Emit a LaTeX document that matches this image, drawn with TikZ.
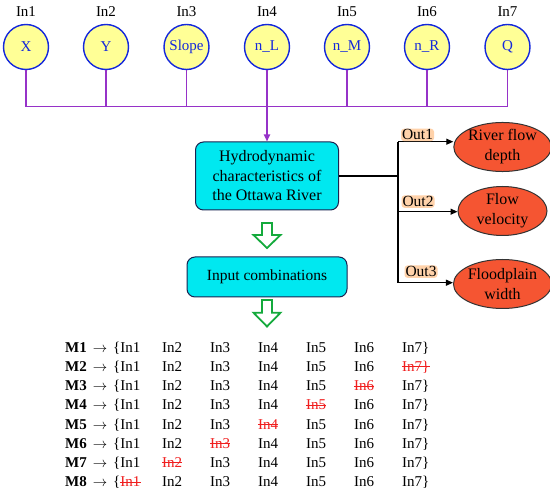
\documentclass[tikz,border=0pt]{standalone}
\usepackage{fontspec}
\setmainfont{Liberation Serif}
\usetikzlibrary{shapes.geometric,arrows.meta,calc}
\definecolor{purp}{RGB}{150,50,200}
\definecolor{cblue}{RGB}{20,40,220}
\definecolor{cyel}{RGB}{255,255,150}
\definecolor{boxc}{RGB}{0,232,240}
\definecolor{boxd}{RGB}{25,35,80}
\definecolor{ovalc}{RGB}{245,85,50}
\definecolor{garr}{RGB}{20,170,60}
\definecolor{glow}{RGB}{255,210,170}
\definecolor{strred}{RGB}{240,30,30}
\begin{document}
\begin{tikzpicture}[x=1pt,y=-1pt,
  every node/.style={inner sep=0pt},
  lbl/.style={font=\fontsize{15}{18}\selectfont},
  inc/.style={circle, draw=cblue, line width=1.4pt, fill=cyel, minimum size=45pt, text=cblue, font=\fontsize{15}{18}\selectfont},
  purpline/.style={draw=purp, line width=1.6pt},
  procbox/.style={draw=boxd, line width=1pt, fill=boxc, rounded corners=8pt, align=center, font=\fontsize{16}{19.5}\selectfont},
  outoval/.style={ellipse, draw=black!80, line width=1pt, fill=ovalc, minimum width=89pt, minimum height=49pt, align=center, font=\fontsize{16}{20}\selectfont},
  outlbl/.style={fill=glow, rounded corners=3pt, inner sep=1pt, font=\fontsize{15.5}{18}\selectfont},
  outconn/.style={draw=black, line width=1.2pt},
  tipb/.style={-{Triangle[length=7pt,width=6pt]}},
  cell/.style={anchor=base west, font=\fontsize{15}{18}\selectfont},
  strike/.style={draw=strred, line width=1.1pt},
  hollowarrow/.pic={\draw[garr, line width=1.8pt, fill=white, line join=miter]
     (-5,0) -- (5,0) -- (5,12) -- (13.5,12) -- (0,25) -- (-13.5,12) -- (-5,12) -- cycle;}
]
\fill[white] (0,0) rectangle (550,494);
\useasboundingbox (0,0) rectangle (550,494);

% inputs
\foreach \x/\t [count=\i] in {26/X,106/Y,186.5/Slope,267/n\_L,347/n\_M,427/n\_R,507.5/Q}{
  \node[inc] (c\i) at (\x,47) {\t};
  \node[lbl, anchor=base] (t\i) at (\x,16.7) {In\i};
}
\coordinate (bus) at (267,106.5);
\draw[purpline] (c1.south) -- (c1.south |- bus) -- (c7.south |- bus) -- (c7.south);
\foreach \i in {2,...,6}{
  \draw[purpline] (c\i.south) -- (c\i.south |- bus);
}

% process boxes
\node[procbox, minimum width=143pt, minimum height=68pt] (hydro) at (267,176) {Hydrodynamic\\characteristics of\\the Ottawa River};
\node[procbox, minimum width=160pt, minimum height=40pt, font=\fontsize{15.5}{18}\selectfont] (comb) at (267,277) {Input combinations};
\draw[purpline, -{Triangle[length=7pt,width=6pt]}] (bus) -- (bus |- hydro.north);

% green hollow arrows
\coordinate (g1) at (267,223);
\coordinate (g2) at (267,300);
\pic at (g1) {hollowarrow};
\pic[yscale=1.06] at (g2) {hollowarrow};

% outputs
\node[outoval] (o1) at (502.5,147) {River flow\\depth};
\node[outoval] (o2) at (502.5,211) {Flow\\velocity};
\node[outoval] (o3) at (502.5,284) {Floodplain\\width};
\coordinate (j1) at (398,141.7);
\coordinate (j2) at (398,211.7);
\coordinate (j3) at (398,282.7);
\draw[outconn] (hydro.east) -- (hydro.east -| j1);
\draw[outconn] (j1) -- (j3);
\draw[outconn, tipb] (j1) -- (j1 -| o1.west);
\draw[outconn, tipb] (j2) -- (j2 -| o2.west);
\draw[outconn, tipb] (j3) -- (j3 -| o3.west);
\node[outlbl, anchor=base] (l1) at (417.5,140) {Out1};
\node[outlbl, anchor=base] (l2) at (418,206.7) {Out2};
\node[outlbl, anchor=base] (l3) at (421,276.7) {Out3};

% combinations table
\foreach \r in {1,...,8}{
  \pgfmathsetmacro\yy{352.3+(\r-1)*19.2}
  \pgfmathtruncatemacro\s{9-\r}
  \node[cell, font=\bfseries\fontsize{15}{18}\selectfont] (m\r) at (65,\yy) {M\r};
  \node[cell] (a\r) at (92.7,\yy) {$\rightarrow$};
  \node[cell] (b\r) at (113,\yy) {\{};
  \foreach \c/\cx in {1/120.2,2/162,3/210,4/258,5/306,6/354,7/402}{
    \ifnum\c=7 \def\txt{In7\}}\else\def\txt{In\c}\fi
    \ifnum\c=\s \def\cc{strred}\else\def\cc{black}\fi
    \node[cell, text=\cc] (r\r-\c) at (\cx,\yy) {\txt};
    \ifnum\c=\s
      \draw[strike] ($(r\r-\c.base west)+(0,-4.6)$) -- ($(r\r-\c.base east)+(0,-4.6)$);
    \fi
  }
}
\end{tikzpicture}
\end{document}
